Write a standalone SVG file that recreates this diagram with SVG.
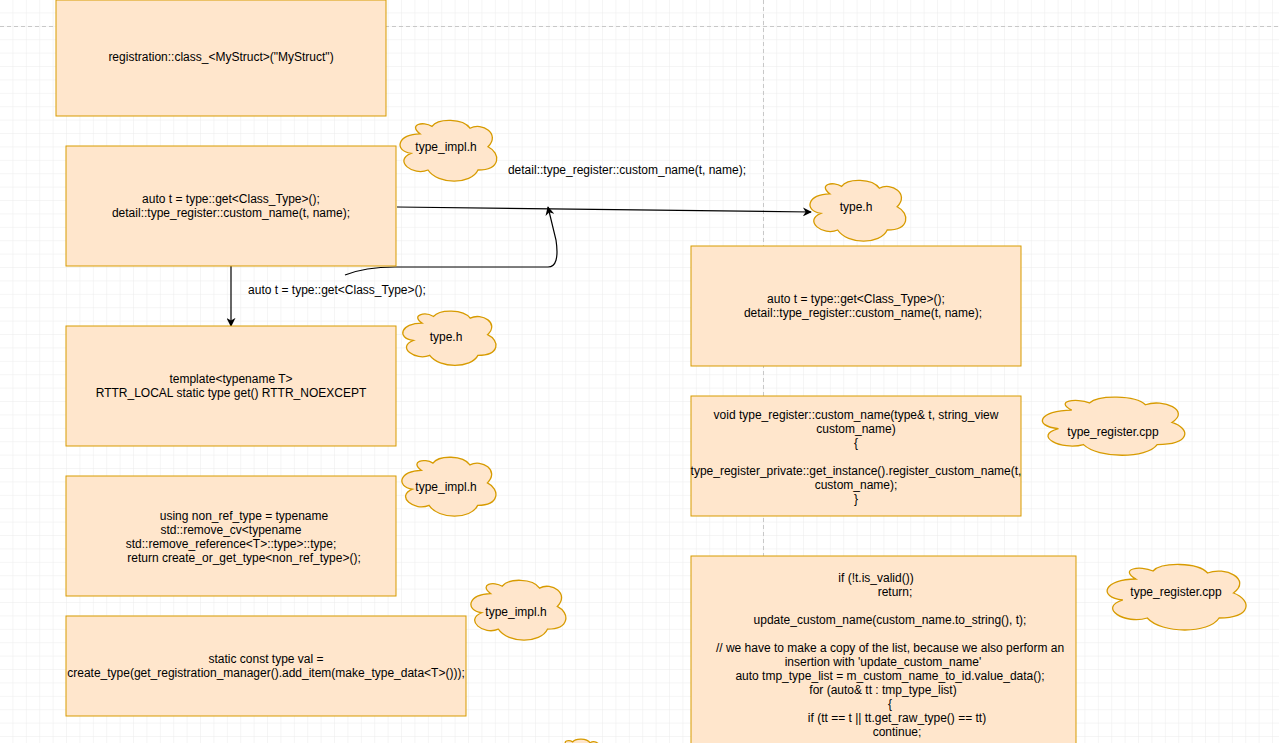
<svg xmlns="http://www.w3.org/2000/svg" width="1279" height="743" viewBox="0 0 1279 743">
<style>
.b{fill:#ffe6cc;stroke:#d79b00;stroke-width:1}
.c{fill:#ffe6cc;stroke:#d79b00;stroke-width:1.3}
text{font-family:"Liberation Sans",Arial,sans-serif;font-size:12px;fill:#000;text-anchor:middle}
.l{fill:none;stroke:#000;stroke-width:1.2}
</style>
<defs>
<pattern id="g" width="13.4" height="13.4" patternUnits="userSpaceOnUse"><path d="M13.4 0V13.4H0" fill="none" stroke="#ececec" stroke-width="1"/></pattern>
<symbol id="cl" viewBox="0 0 110 70" preserveAspectRatio="none"><path class="c" vector-effect="non-scaling-stroke" d="M27,17 C5,17 0,35 18,38 C0,46 20,63 35,56 C45,72 78,72 85,56 C108,56 108,38 95,31 C108,17 89,4 77,11 C70,0 45,0 39,9 C30,3 15,7 27,17 Z"/></symbol>
<marker id="a" viewBox="0 0 10 10" refX="9" refY="5" markerWidth="9" markerHeight="9" orient="auto" markerUnits="userSpaceOnUse"><path d="M0,0 L10,5 L0,10 L3,5 Z" fill="#000"/></marker>
</defs>
<rect width="1279" height="743" fill="#fff"/>
<rect width="1279" height="743" fill="url(#g)"/>
<line x1="0" y1="26.5" x2="1279" y2="26.5" stroke="#c8c8c8" stroke-dasharray="4 3"/>
<line x1="763.5" y1="0" x2="763.5" y2="743" stroke="#c8c8c8" stroke-dasharray="4 3"/>
<g id="connectors">
<path class="l" d="M397,207 L811,212" marker-end="url(#a)"/>
<path class="l" d="M231,266 L231,326" marker-end="url(#a)"/>
<path class="l" d="M345,275 Q365,267 395,267 L548,267 Q560,267 556,240 L548,207" marker-end="url(#a)"/>
<text x="627" y="174">detail::type_register::custom_name(t, name);</text>
<text x="337" y="294">auto t = type::get&lt;Class_Type&gt;();</text>
</g>
<g id="n1"><rect class="b" x="56" y="0" width="330" height="116"/><text x="221" y="61">registration::class_&lt;MyStruct&gt;("MyStruct")</text></g>
<g id="n2"><rect class="b" x="66" y="146" width="330" height="120"/><text x="231" y="203">auto t = type::get&lt;Class_Type&gt;();</text><text x="231" y="217">detail::type_register::custom_name(t, name);</text></g>
<g id="n3"><rect class="b" x="66" y="326" width="330" height="120"/><text x="231" y="383">template&lt;typename T&gt;</text><text x="231" y="397">RTTR_LOCAL static type get() RTTR_NOEXCEPT</text></g>
<g id="n4"><rect class="b" x="66" y="476" width="330" height="120"/><text x="244" y="520">using non_ref_type = typename</text><text x="231" y="534">std::remove_cv&lt;typename</text><text x="231" y="548">std::remove_reference&lt;T&gt;::type&gt;::type;</text><text x="244" y="562">return create_or_get_type&lt;non_ref_type&gt;();</text></g>
<g id="n5"><rect class="b" x="66" y="616" width="400" height="100"/><text x="266" y="663">static const type val =</text><text x="266" y="677">create_type(get_registration_manager().add_item(make_type_data&lt;T&gt;()));</text></g>
<g id="n6"><rect class="b" x="691" y="246" width="330" height="120"/><text x="856" y="303">auto t = type::get&lt;Class_Type&gt;();</text><text x="863" y="317">detail::type_register::custom_name(t, name);</text></g>
<g id="n7"><rect class="b" x="691" y="396" width="330" height="120"/><text x="856" y="419">void type_register::custom_name(type&amp; t, string_view</text><text x="856" y="433">custom_name)</text><text x="856" y="447">{</text><text x="856" y="475">type_register_private::get_instance().register_custom_name(t,</text><text x="856" y="489">custom_name);</text><text x="856" y="503">}</text></g>
<g id="n8"><rect class="b" x="691" y="556" width="385" height="200"/><text x="876" y="582">if (!t.is_valid())</text><text x="895" y="596">return;</text><text x="890" y="624">update_custom_name(custom_name.to_string(), t);</text><text x="890" y="652">// we have to make a copy of the list, because we also perform an</text><text x="883" y="666">insertion with 'update_custom_name'</text><text x="890" y="680">auto tmp_type_list = m_custom_name_to_id.value_data();</text><text x="883" y="694">for (auto&amp; tt : tmp_type_list)</text><text x="890" y="708">{</text><text x="897" y="722">if (tt == t || tt.get_raw_type() == tt)</text><text x="897" y="736">continue;</text></g>
<g id="c1"><use href="#cl" x="393" y="118" width="110" height="65"/><text x="446" y="151">type_impl.h</text></g>
<g id="c2"><use href="#cl" x="803" y="178" width="109" height="65"/><text x="856" y="211">type.h</text></g>
<g id="c3"><use href="#cl" x="396" y="309" width="106" height="58"/><text x="446" y="341">type.h</text></g>
<g id="c4"><use href="#cl" x="1032" y="395" width="162" height="62"/><text x="1113" y="436">type_register.cpp</text></g>
<g id="c5"><use href="#cl" x="395" y="455" width="107" height="63"/><text x="446" y="491">type_impl.h</text></g>
<g id="c6"><use href="#cl" x="464" y="578" width="108" height="64"/><text x="516" y="616">type_impl.h</text></g>
<g id="c7"><use href="#cl" x="1097" y="562" width="158" height="70"/><text x="1176" y="596">type_register.cpp</text></g>
<g id="c8"><use href="#cl" x="555" y="738" width="50" height="30"/></g>
</svg>
